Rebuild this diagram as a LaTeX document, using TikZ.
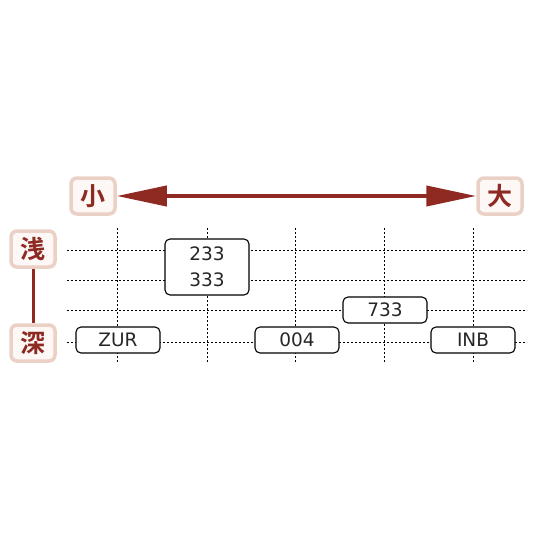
\documentclass[tikz,border=0pt]{standalone}
\usepackage{fontspec}
\setmainfont{DejaVu Sans}
\newfontfamily\cjk{Noto Sans CJK JP}[BoldFont={* Bold}]
\usetikzlibrary{arrows.meta}
\definecolor{dred}{HTML}{8E2A22}
\definecolor{pinkb}{HTML}{EBD0C6}
\definecolor{pinkf}{HTML}{FDF8F6}
\tikzset{
  grid/.style={black, line width=0.6pt, dash pattern=on 2pt off 2pt},
  lab/.style={draw=pinkb, fill=pinkf, line width=3.5pt, rounded corners=6pt, minimum width=44pt, minimum height=36pt, inner sep=0pt, text=dred, font=\cjk\bfseries\fontsize{25}{25}\selectfont},
  cbox/.style={draw=black, fill=white, line width=1.1pt, rounded corners=5pt, minimum width=84pt, minimum height=26pt, inner sep=0pt, font=\fontsize{18.5}{18.5}\selectfont, text=black!85},
  bigarrow/.style={dred, line width=4pt, {Triangle[length=50pt,width=20pt]}-{Triangle[length=50pt,width=20pt]}}
}
\begin{document}
\begin{tikzpicture}[x=1pt,y=-1pt]
\useasboundingbox (0,0) rectangle (543,543);
% grid
\foreach \yy in {250,280,310,342} \draw[grid] (67,\yy) -- (527,\yy);
\foreach \xx in {117,207,295,384,473} \draw[grid] (\xx,228) -- (\xx,363);
% labels
\node[lab] (small) at (93,196) {小};
\node[lab] (large) at (500,196) {大};
\node[lab] (shallow) at (33,249) {浅};
\node[lab] (deep) at (33,343) {深};
\draw[bigarrow] (small.east) -- (large.west);
\draw[dred, line width=3pt] (shallow.south) -- (deep.north);
% boxes
\node[cbox, minimum height=56pt, align=center, font=\fontsize{18.5}{26}\selectfont] (b233) at (207,267) {233\\333};
\node[cbox] (zur) at (118,340) {ZUR};
\node[cbox] (b004) at (297,340) {004};
\node[cbox] (b733) at (385,310) {733};
\node[cbox] (inb) at (473,340) {INB};
\end{tikzpicture}
\end{document}
